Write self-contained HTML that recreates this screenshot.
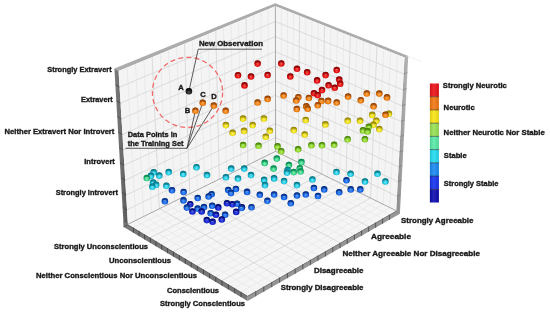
<!DOCTYPE html>
<html><head><meta charset="utf-8"><title>Personality 3D scatter</title><style>
html,body{margin:0;padding:0;background:#fff;width:550px;height:313px;overflow:hidden}
svg{display:block}
text{font-family:"Liberation Sans",Arial,sans-serif;font-weight:bold;font-size:7.6px;fill:#1a1a1a;stroke:#1a1a1a;stroke-width:0.36px}
</style></head><body>
<svg width="550" height="313" viewBox="0 0 550 313">
<defs>
<radialGradient id="gR" cx="50%" cy="60%" r="58%" fx="50%" fy="68%"><stop offset="0" stop-color="#ff4a4a"/><stop offset="0.55" stop-color="#e40a0a"/><stop offset="1" stop-color="#800000"/></radialGradient>
<radialGradient id="gO" cx="50%" cy="60%" r="58%" fx="50%" fy="68%"><stop offset="0" stop-color="#ffa845"/><stop offset="0.55" stop-color="#ee7a08"/><stop offset="1" stop-color="#8a3a00"/></radialGradient>
<radialGradient id="gO2" cx="50%" cy="60%" r="58%" fx="50%" fy="68%"><stop offset="0" stop-color="#ffa845"/><stop offset="0.55" stop-color="#ee7a08"/><stop offset="1" stop-color="#8a3a00"/></radialGradient>
<radialGradient id="gY" cx="50%" cy="60%" r="58%" fx="50%" fy="68%"><stop offset="0" stop-color="#fff45a"/><stop offset="0.55" stop-color="#eedd10"/><stop offset="1" stop-color="#8a7a00"/></radialGradient>
<radialGradient id="gG" cx="50%" cy="60%" r="58%" fx="50%" fy="68%"><stop offset="0" stop-color="#b8f060"/><stop offset="0.55" stop-color="#8cd428"/><stop offset="1" stop-color="#3e7a00"/></radialGradient>
<radialGradient id="gT" cx="50%" cy="60%" r="58%" fx="50%" fy="68%"><stop offset="0" stop-color="#80f8b8"/><stop offset="0.55" stop-color="#32d084"/><stop offset="1" stop-color="#008048"/></radialGradient>
<radialGradient id="gC" cx="50%" cy="60%" r="58%" fx="50%" fy="68%"><stop offset="0" stop-color="#6aeeff"/><stop offset="0.55" stop-color="#18c4e0"/><stop offset="1" stop-color="#00707e"/></radialGradient>
<radialGradient id="gB" cx="50%" cy="60%" r="58%" fx="50%" fy="68%"><stop offset="0" stop-color="#4a94ff"/><stop offset="0.55" stop-color="#1464e6"/><stop offset="1" stop-color="#00287a"/></radialGradient>
<radialGradient id="gD" cx="50%" cy="60%" r="58%" fx="50%" fy="68%"><stop offset="0" stop-color="#3c4cf4"/><stop offset="0.55" stop-color="#1422cc"/><stop offset="1" stop-color="#000868"/></radialGradient>
<radialGradient id="gA" cx="50%" cy="60%" r="58%" fx="50%" fy="68%"><stop offset="0" stop-color="#555555"/><stop offset="0.55" stop-color="#222222"/><stop offset="1" stop-color="#0a0a0a"/></radialGradient>
<linearGradient id="rband" x1="0" x2="1" y1="0" y2="0"><stop offset="0" stop-color="#8a8a8a"/><stop offset="1" stop-color="#b8b8b8"/></linearGradient>
<linearGradient id="lband" x1="0" x2="1" y1="0" y2="0"><stop offset="0" stop-color="#7a7a7a"/><stop offset="0.6" stop-color="#6a6a6a"/><stop offset="1" stop-color="#555"/></linearGradient>
<linearGradient id="cbshade" x1="0" x2="1" y1="0" y2="0"><stop offset="0" stop-color="#000" stop-opacity="0.12"/><stop offset="0.45" stop-color="#fff" stop-opacity="0.1"/><stop offset="1" stop-color="#000" stop-opacity="0.1"/></linearGradient>
</defs>
<rect width="550" height="313" fill="#fff"/>
<polygon points="114.4,68.4 275.4,3.2 408.3,56 404.5,57.6 275.4,6.2 118.6,71" fill="#acacac" />
<polygon points="114.4,68.4 118.6,71 127.9,224.3 123.7,227" fill="url(#lband)" />
<polygon points="123.7,221.8 247.6,295.8 247.6,301 123.7,227" fill="#777777" />
<polygon points="247.6,295.8 399.9,208.6 399.9,213.8 247.6,301" fill="#959595" />
<polygon points="404.5,57.6 408.3,56 399.9,213.2 396.2,210.7" fill="url(#rband)" />
<line x1="408.6" y1="56.4" x2="422" y2="61.6" stroke="#ececec" stroke-width="0.8"/>
<polyline points="123.7,226.9 127.9,224.5 247.6,296 396.2,210.9" fill="none" stroke="#4a4a4a" stroke-width="0.8"/>
<polygon points="118.6,71 275.4,6.2 275.6,151.3 127.9,224.3" fill="#f4f4f4" />
<polygon points="275.4,6.2 404.5,57.6 396.2,210.7 275.6,151.3" fill="#f4f4f4" />
<polygon points="275.6,151.3 396.2,210.7 247.6,295.8 127.9,224.3" fill="#f5f5f5" />
<line x1="127.09" y1="67.49" x2="135.86" y2="220.37" stroke="#e2e2e2" stroke-width="0.6"/>
<line x1="135.5" y1="64.01" x2="143.76" y2="216.46" stroke="#e2e2e2" stroke-width="0.6"/>
<line x1="143.85" y1="60.57" x2="151.59" y2="212.59" stroke="#e2e2e2" stroke-width="0.6"/>
<line x1="152.12" y1="57.15" x2="159.36" y2="208.75" stroke="#cacaca" stroke-width="0.6"/>
<line x1="160.32" y1="53.76" x2="167.06" y2="204.95" stroke="#e2e2e2" stroke-width="0.6"/>
<line x1="168.45" y1="50.4" x2="174.7" y2="201.17" stroke="#e2e2e2" stroke-width="0.6"/>
<line x1="176.51" y1="47.07" x2="182.29" y2="197.42" stroke="#e2e2e2" stroke-width="0.6"/>
<line x1="184.5" y1="43.77" x2="189.81" y2="193.7" stroke="#cacaca" stroke-width="0.6"/>
<line x1="192.43" y1="40.49" x2="197.27" y2="190.01" stroke="#e2e2e2" stroke-width="0.6"/>
<line x1="200.28" y1="37.24" x2="204.67" y2="186.36" stroke="#e2e2e2" stroke-width="0.6"/>
<line x1="208.08" y1="34.02" x2="212.02" y2="182.73" stroke="#e2e2e2" stroke-width="0.6"/>
<line x1="215.81" y1="30.83" x2="219.3" y2="179.12" stroke="#cacaca" stroke-width="0.6"/>
<line x1="223.47" y1="27.66" x2="226.53" y2="175.55" stroke="#e2e2e2" stroke-width="0.6"/>
<line x1="231.07" y1="24.52" x2="233.71" y2="172.01" stroke="#e2e2e2" stroke-width="0.6"/>
<line x1="238.61" y1="21.4" x2="240.82" y2="168.49" stroke="#e2e2e2" stroke-width="0.6"/>
<line x1="246.09" y1="18.31" x2="247.89" y2="165" stroke="#cacaca" stroke-width="0.6"/>
<line x1="253.51" y1="15.25" x2="254.89" y2="161.53" stroke="#e2e2e2" stroke-width="0.6"/>
<line x1="260.86" y1="12.21" x2="261.85" y2="158.1" stroke="#e2e2e2" stroke-width="0.6"/>
<line x1="268.16" y1="9.19" x2="268.75" y2="154.69" stroke="#e2e2e2" stroke-width="0.6"/>
<line x1="119.58" y1="87.17" x2="275.42" y2="21.44" stroke="#d4d4d4" stroke-width="0.8"/>
<line x1="120.55" y1="103.15" x2="275.44" y2="36.52" stroke="#d4d4d4" stroke-width="0.8"/>
<line x1="121.51" y1="118.93" x2="275.46" y2="51.42" stroke="#d4d4d4" stroke-width="0.8"/>
<line x1="122.45" y1="134.53" x2="275.48" y2="66.17" stroke="#d4d4d4" stroke-width="0.8"/>
<line x1="123.39" y1="149.94" x2="275.5" y2="80.74" stroke="#d4d4d4" stroke-width="0.8"/>
<line x1="124.31" y1="165.16" x2="275.52" y2="95.16" stroke="#d4d4d4" stroke-width="0.8"/>
<line x1="125.23" y1="180.21" x2="275.54" y2="109.43" stroke="#d4d4d4" stroke-width="0.8"/>
<line x1="126.13" y1="195.08" x2="275.56" y2="123.54" stroke="#d4d4d4" stroke-width="0.8"/>
<line x1="127.02" y1="209.77" x2="275.58" y2="137.49" stroke="#d4d4d4" stroke-width="0.8"/>
<line x1="281.38" y1="8.58" x2="281.21" y2="154.06" stroke="#e2e2e2" stroke-width="0.6"/>
<line x1="287.4" y1="10.98" x2="286.86" y2="156.85" stroke="#e2e2e2" stroke-width="0.6"/>
<line x1="293.47" y1="13.4" x2="292.56" y2="159.65" stroke="#e2e2e2" stroke-width="0.6"/>
<line x1="299.59" y1="15.83" x2="298.29" y2="162.48" stroke="#cacaca" stroke-width="0.6"/>
<line x1="305.76" y1="18.29" x2="304.07" y2="165.32" stroke="#e2e2e2" stroke-width="0.6"/>
<line x1="311.98" y1="20.76" x2="309.9" y2="168.19" stroke="#e2e2e2" stroke-width="0.6"/>
<line x1="318.24" y1="23.26" x2="315.76" y2="171.08" stroke="#e2e2e2" stroke-width="0.6"/>
<line x1="324.56" y1="25.77" x2="321.67" y2="173.99" stroke="#cacaca" stroke-width="0.6"/>
<line x1="330.93" y1="28.31" x2="327.62" y2="176.92" stroke="#e2e2e2" stroke-width="0.6"/>
<line x1="337.35" y1="30.86" x2="333.62" y2="179.88" stroke="#e2e2e2" stroke-width="0.6"/>
<line x1="343.82" y1="33.44" x2="339.67" y2="182.86" stroke="#e2e2e2" stroke-width="0.6"/>
<line x1="350.34" y1="36.04" x2="345.76" y2="185.85" stroke="#cacaca" stroke-width="0.6"/>
<line x1="356.92" y1="38.66" x2="351.89" y2="188.88" stroke="#e2e2e2" stroke-width="0.6"/>
<line x1="363.55" y1="41.3" x2="358.08" y2="191.92" stroke="#e2e2e2" stroke-width="0.6"/>
<line x1="370.23" y1="43.96" x2="364.31" y2="194.99" stroke="#e2e2e2" stroke-width="0.6"/>
<line x1="376.97" y1="46.64" x2="370.59" y2="198.09" stroke="#cacaca" stroke-width="0.6"/>
<line x1="383.77" y1="49.35" x2="376.92" y2="201.2" stroke="#e2e2e2" stroke-width="0.6"/>
<line x1="390.62" y1="52.07" x2="383.29" y2="204.34" stroke="#e2e2e2" stroke-width="0.6"/>
<line x1="397.53" y1="54.83" x2="389.72" y2="207.51" stroke="#e2e2e2" stroke-width="0.6"/>
<line x1="275.42" y1="21.56" x2="403.62" y2="73.88" stroke="#d4d4d4" stroke-width="0.8"/>
<line x1="275.44" y1="36.71" x2="402.75" y2="89.93" stroke="#d4d4d4" stroke-width="0.8"/>
<line x1="275.46" y1="51.68" x2="401.89" y2="105.75" stroke="#d4d4d4" stroke-width="0.8"/>
<line x1="275.48" y1="66.45" x2="401.04" y2="121.36" stroke="#d4d4d4" stroke-width="0.8"/>
<line x1="275.5" y1="81.04" x2="400.21" y2="136.76" stroke="#d4d4d4" stroke-width="0.8"/>
<line x1="275.52" y1="95.44" x2="399.39" y2="151.95" stroke="#d4d4d4" stroke-width="0.8"/>
<line x1="275.54" y1="109.67" x2="398.57" y2="166.93" stroke="#d4d4d4" stroke-width="0.8"/>
<line x1="275.56" y1="123.72" x2="397.77" y2="181.72" stroke="#d4d4d4" stroke-width="0.8"/>
<line x1="275.58" y1="137.59" x2="396.98" y2="196.3" stroke="#d4d4d4" stroke-width="0.8"/>
<line x1="281.21" y1="154.06" x2="133.43" y2="227.6" stroke="#e6e6e6" stroke-width="0.6"/>
<line x1="286.87" y1="156.85" x2="139.01" y2="230.94" stroke="#e6e6e6" stroke-width="0.6"/>
<line x1="292.56" y1="159.65" x2="144.63" y2="234.29" stroke="#e6e6e6" stroke-width="0.6"/>
<line x1="298.3" y1="162.48" x2="150.3" y2="237.68" stroke="#cacaca" stroke-width="0.6"/>
<line x1="304.08" y1="165.33" x2="156.01" y2="241.09" stroke="#e6e6e6" stroke-width="0.6"/>
<line x1="309.9" y1="168.19" x2="161.77" y2="244.53" stroke="#e6e6e6" stroke-width="0.6"/>
<line x1="315.76" y1="171.08" x2="167.58" y2="248" stroke="#e6e6e6" stroke-width="0.6"/>
<line x1="321.67" y1="173.99" x2="173.43" y2="251.5" stroke="#cacaca" stroke-width="0.6"/>
<line x1="327.63" y1="176.93" x2="179.33" y2="255.02" stroke="#e6e6e6" stroke-width="0.6"/>
<line x1="333.63" y1="179.88" x2="185.28" y2="258.58" stroke="#e6e6e6" stroke-width="0.6"/>
<line x1="339.67" y1="182.86" x2="191.28" y2="262.16" stroke="#e6e6e6" stroke-width="0.6"/>
<line x1="345.76" y1="185.86" x2="197.33" y2="265.77" stroke="#cacaca" stroke-width="0.6"/>
<line x1="351.9" y1="188.88" x2="203.43" y2="269.42" stroke="#e6e6e6" stroke-width="0.6"/>
<line x1="358.08" y1="191.92" x2="209.58" y2="273.09" stroke="#e6e6e6" stroke-width="0.6"/>
<line x1="364.31" y1="194.99" x2="215.78" y2="276.8" stroke="#e6e6e6" stroke-width="0.6"/>
<line x1="370.59" y1="198.09" x2="222.04" y2="280.53" stroke="#cacaca" stroke-width="0.6"/>
<line x1="376.92" y1="201.2" x2="228.35" y2="284.3" stroke="#e6e6e6" stroke-width="0.6"/>
<line x1="383.3" y1="204.34" x2="234.71" y2="288.1" stroke="#e6e6e6" stroke-width="0.6"/>
<line x1="389.72" y1="207.51" x2="241.13" y2="291.93" stroke="#e6e6e6" stroke-width="0.6"/>
<line x1="268.8" y1="154.66" x2="389.4" y2="214.59" stroke="#e6e6e6" stroke-width="0.6"/>
<line x1="261.94" y1="158.05" x2="382.54" y2="218.52" stroke="#e6e6e6" stroke-width="0.6"/>
<line x1="255.02" y1="161.47" x2="375.62" y2="222.48" stroke="#e6e6e6" stroke-width="0.6"/>
<line x1="248.05" y1="164.92" x2="368.64" y2="226.48" stroke="#cacaca" stroke-width="0.6"/>
<line x1="241.01" y1="168.39" x2="361.59" y2="230.52" stroke="#e6e6e6" stroke-width="0.6"/>
<line x1="233.92" y1="171.9" x2="354.48" y2="234.59" stroke="#e6e6e6" stroke-width="0.6"/>
<line x1="226.77" y1="175.44" x2="347.3" y2="238.7" stroke="#e6e6e6" stroke-width="0.6"/>
<line x1="219.55" y1="179" x2="340.06" y2="242.85" stroke="#cacaca" stroke-width="0.6"/>
<line x1="212.28" y1="182.6" x2="332.75" y2="247.04" stroke="#e6e6e6" stroke-width="0.6"/>
<line x1="204.94" y1="186.23" x2="325.37" y2="251.26" stroke="#e6e6e6" stroke-width="0.6"/>
<line x1="197.53" y1="189.88" x2="317.92" y2="255.53" stroke="#e6e6e6" stroke-width="0.6"/>
<line x1="190.07" y1="193.58" x2="310.4" y2="259.84" stroke="#cacaca" stroke-width="0.6"/>
<line x1="182.53" y1="197.3" x2="302.81" y2="264.18" stroke="#e6e6e6" stroke-width="0.6"/>
<line x1="174.93" y1="201.05" x2="295.15" y2="268.57" stroke="#e6e6e6" stroke-width="0.6"/>
<line x1="167.27" y1="204.84" x2="287.41" y2="273" stroke="#e6e6e6" stroke-width="0.6"/>
<line x1="159.53" y1="208.67" x2="279.6" y2="277.47" stroke="#cacaca" stroke-width="0.6"/>
<line x1="151.73" y1="212.52" x2="271.72" y2="281.99" stroke="#e6e6e6" stroke-width="0.6"/>
<line x1="143.86" y1="216.41" x2="263.76" y2="286.55" stroke="#e6e6e6" stroke-width="0.6"/>
<line x1="135.91" y1="220.34" x2="255.72" y2="291.15" stroke="#e6e6e6" stroke-width="0.6"/>
<line x1="275.4" y1="6.2" x2="275.6" y2="151.3" stroke="#a0a0a0" stroke-width="0.9"/>
<line x1="275.6" y1="151.3" x2="127.9" y2="224.3" stroke="#a0a0a0" stroke-width="0.9"/>
<line x1="275.6" y1="151.3" x2="396.2" y2="210.7" stroke="#a0a0a0" stroke-width="0.9"/>
<line x1="133.43" y1="227.6" x2="133.43" y2="232.8" stroke="#3e3e3e" stroke-width="0.8"/>
<line x1="389.4" y1="214.59" x2="389.4" y2="219.79" stroke="#505050" stroke-width="0.9"/>
<line x1="139.01" y1="230.94" x2="139.01" y2="236.14" stroke="#3e3e3e" stroke-width="0.8"/>
<line x1="382.54" y1="218.52" x2="382.54" y2="223.72" stroke="#505050" stroke-width="0.9"/>
<line x1="144.63" y1="234.29" x2="144.63" y2="239.49" stroke="#3e3e3e" stroke-width="0.8"/>
<line x1="375.62" y1="222.48" x2="375.62" y2="227.68" stroke="#505050" stroke-width="0.9"/>
<line x1="150.3" y1="237.68" x2="150.3" y2="242.88" stroke="#3e3e3e" stroke-width="0.8"/>
<line x1="368.64" y1="226.48" x2="368.64" y2="231.68" stroke="#505050" stroke-width="0.9"/>
<line x1="156.01" y1="241.09" x2="156.01" y2="246.29" stroke="#3e3e3e" stroke-width="0.8"/>
<line x1="361.59" y1="230.52" x2="361.59" y2="235.72" stroke="#505050" stroke-width="0.9"/>
<line x1="161.77" y1="244.53" x2="161.77" y2="249.73" stroke="#3e3e3e" stroke-width="0.8"/>
<line x1="354.48" y1="234.59" x2="354.48" y2="239.79" stroke="#505050" stroke-width="0.9"/>
<line x1="167.58" y1="248" x2="167.58" y2="253.2" stroke="#3e3e3e" stroke-width="0.8"/>
<line x1="347.3" y1="238.7" x2="347.3" y2="243.9" stroke="#505050" stroke-width="0.9"/>
<line x1="173.43" y1="251.5" x2="173.43" y2="256.7" stroke="#3e3e3e" stroke-width="0.8"/>
<line x1="340.06" y1="242.85" x2="340.06" y2="248.05" stroke="#505050" stroke-width="0.9"/>
<line x1="179.33" y1="255.02" x2="179.33" y2="260.22" stroke="#3e3e3e" stroke-width="0.8"/>
<line x1="332.75" y1="247.04" x2="332.75" y2="252.24" stroke="#505050" stroke-width="0.9"/>
<line x1="185.28" y1="258.58" x2="185.28" y2="263.78" stroke="#3e3e3e" stroke-width="0.8"/>
<line x1="325.37" y1="251.26" x2="325.37" y2="256.46" stroke="#505050" stroke-width="0.9"/>
<line x1="191.28" y1="262.16" x2="191.28" y2="267.36" stroke="#3e3e3e" stroke-width="0.8"/>
<line x1="317.92" y1="255.53" x2="317.92" y2="260.73" stroke="#505050" stroke-width="0.9"/>
<line x1="197.33" y1="265.77" x2="197.33" y2="270.97" stroke="#3e3e3e" stroke-width="0.8"/>
<line x1="310.4" y1="259.84" x2="310.4" y2="265.04" stroke="#505050" stroke-width="0.9"/>
<line x1="203.43" y1="269.42" x2="203.43" y2="274.62" stroke="#3e3e3e" stroke-width="0.8"/>
<line x1="302.81" y1="264.18" x2="302.81" y2="269.38" stroke="#505050" stroke-width="0.9"/>
<line x1="209.58" y1="273.09" x2="209.58" y2="278.29" stroke="#3e3e3e" stroke-width="0.8"/>
<line x1="295.15" y1="268.57" x2="295.15" y2="273.77" stroke="#505050" stroke-width="0.9"/>
<line x1="215.78" y1="276.8" x2="215.78" y2="282" stroke="#3e3e3e" stroke-width="0.8"/>
<line x1="287.41" y1="273" x2="287.41" y2="278.2" stroke="#505050" stroke-width="0.9"/>
<line x1="222.04" y1="280.53" x2="222.04" y2="285.73" stroke="#3e3e3e" stroke-width="0.8"/>
<line x1="279.6" y1="277.47" x2="279.6" y2="282.67" stroke="#505050" stroke-width="0.9"/>
<line x1="228.35" y1="284.3" x2="228.35" y2="289.5" stroke="#3e3e3e" stroke-width="0.8"/>
<line x1="271.72" y1="281.99" x2="271.72" y2="287.19" stroke="#505050" stroke-width="0.9"/>
<line x1="234.71" y1="288.1" x2="234.71" y2="293.3" stroke="#3e3e3e" stroke-width="0.8"/>
<line x1="263.76" y1="286.55" x2="263.76" y2="291.75" stroke="#505050" stroke-width="0.9"/>
<line x1="241.13" y1="291.93" x2="241.13" y2="297.13" stroke="#3e3e3e" stroke-width="0.8"/>
<line x1="255.72" y1="291.15" x2="255.72" y2="296.35" stroke="#505050" stroke-width="0.9"/>
<line x1="119.58" y1="87.17" x2="115.38" y2="84.67" stroke="#444" stroke-width="0.7"/>
<line x1="403.62" y1="73.88" x2="407.42" y2="72.38" stroke="#777" stroke-width="0.6"/>
<line x1="120.55" y1="103.15" x2="116.35" y2="100.65" stroke="#444" stroke-width="0.7"/>
<line x1="402.75" y1="89.93" x2="406.55" y2="88.43" stroke="#777" stroke-width="0.6"/>
<line x1="121.51" y1="118.93" x2="117.31" y2="116.43" stroke="#444" stroke-width="0.7"/>
<line x1="401.89" y1="105.75" x2="405.69" y2="104.25" stroke="#777" stroke-width="0.6"/>
<line x1="122.45" y1="134.53" x2="118.25" y2="132.03" stroke="#444" stroke-width="0.7"/>
<line x1="401.04" y1="121.36" x2="404.84" y2="119.86" stroke="#777" stroke-width="0.6"/>
<line x1="123.39" y1="149.94" x2="119.19" y2="147.44" stroke="#444" stroke-width="0.7"/>
<line x1="400.21" y1="136.76" x2="404.01" y2="135.26" stroke="#777" stroke-width="0.6"/>
<line x1="124.31" y1="165.16" x2="120.11" y2="162.66" stroke="#444" stroke-width="0.7"/>
<line x1="399.39" y1="151.95" x2="403.19" y2="150.45" stroke="#777" stroke-width="0.6"/>
<line x1="125.23" y1="180.21" x2="121.03" y2="177.71" stroke="#444" stroke-width="0.7"/>
<line x1="398.57" y1="166.93" x2="402.37" y2="165.43" stroke="#777" stroke-width="0.6"/>
<line x1="126.13" y1="195.08" x2="121.93" y2="192.58" stroke="#444" stroke-width="0.7"/>
<line x1="397.77" y1="181.72" x2="401.57" y2="180.22" stroke="#777" stroke-width="0.6"/>
<line x1="127.02" y1="209.77" x2="122.82" y2="207.27" stroke="#444" stroke-width="0.7"/>
<line x1="396.98" y1="196.3" x2="400.78" y2="194.8" stroke="#777" stroke-width="0.6"/>
<circle cx="187.5" cy="92.4" r="35.1" fill="none" stroke="#f06a6a" stroke-width="1.3" stroke-dasharray="5 3.2"/>
<polyline points="262,49.2 198.2,49.2 188.9,91.3" fill="none" stroke="#333" stroke-width="0.8"/>
<polyline points="125.4,148.3 187,148.3" fill="none" stroke="#333" stroke-width="0.8"/>
<line x1="187" y1="148.3" x2="195.4" y2="110.7" stroke="#333" stroke-width="0.8"/>
<line x1="187" y1="148.3" x2="202.7" y2="102.7" stroke="#333" stroke-width="0.8"/>
<line x1="187" y1="148.3" x2="213.8" y2="105.6" stroke="#333" stroke-width="0.8"/>
<circle cx="281.3" cy="63.5" r="3.3" fill="url(#gR)"/>
<ellipse cx="281.3" cy="61.8" rx="2.5" ry="1.5" fill="#800000" fill-opacity="0.45"/>
<ellipse cx="281.3" cy="63" rx="1.7" ry="0.4" fill="#fff" fill-opacity="0.5"/>
<circle cx="257.6" cy="63.6" r="3.3" fill="url(#gR)"/>
<ellipse cx="257.6" cy="61.9" rx="2.5" ry="1.5" fill="#800000" fill-opacity="0.45"/>
<ellipse cx="257.6" cy="63.1" rx="1.7" ry="0.4" fill="#fff" fill-opacity="0.5"/>
<circle cx="297" cy="68.8" r="3.3" fill="url(#gR)"/>
<ellipse cx="297" cy="67.1" rx="2.5" ry="1.5" fill="#800000" fill-opacity="0.45"/>
<ellipse cx="297" cy="68.3" rx="1.7" ry="0.4" fill="#fff" fill-opacity="0.5"/>
<circle cx="336.7" cy="70" r="3.3" fill="url(#gR)"/>
<ellipse cx="336.7" cy="68.3" rx="2.5" ry="1.5" fill="#800000" fill-opacity="0.45"/>
<ellipse cx="336.7" cy="69.5" rx="1.7" ry="0.4" fill="#fff" fill-opacity="0.5"/>
<circle cx="307.2" cy="72.3" r="3.3" fill="url(#gR)"/>
<ellipse cx="307.2" cy="70.6" rx="2.5" ry="1.5" fill="#800000" fill-opacity="0.45"/>
<ellipse cx="307.2" cy="71.8" rx="1.7" ry="0.4" fill="#fff" fill-opacity="0.5"/>
<circle cx="267.6" cy="75" r="3.3" fill="url(#gR)"/>
<ellipse cx="267.6" cy="73.3" rx="2.5" ry="1.5" fill="#800000" fill-opacity="0.45"/>
<ellipse cx="267.6" cy="74.5" rx="1.7" ry="0.4" fill="#fff" fill-opacity="0.5"/>
<circle cx="325.6" cy="75.1" r="3.3" fill="url(#gR)"/>
<ellipse cx="325.6" cy="73.4" rx="2.5" ry="1.5" fill="#800000" fill-opacity="0.45"/>
<ellipse cx="325.6" cy="74.6" rx="1.7" ry="0.4" fill="#fff" fill-opacity="0.5"/>
<circle cx="238" cy="75.2" r="3.3" fill="url(#gR)"/>
<ellipse cx="238" cy="73.5" rx="2.5" ry="1.5" fill="#800000" fill-opacity="0.45"/>
<ellipse cx="238" cy="74.7" rx="1.7" ry="0.4" fill="#fff" fill-opacity="0.5"/>
<circle cx="251" cy="76.5" r="3.3" fill="url(#gR)"/>
<ellipse cx="251" cy="74.8" rx="2.5" ry="1.5" fill="#800000" fill-opacity="0.45"/>
<ellipse cx="251" cy="76" rx="1.7" ry="0.4" fill="#fff" fill-opacity="0.5"/>
<circle cx="290.3" cy="76.5" r="3.3" fill="url(#gR)"/>
<ellipse cx="290.3" cy="74.8" rx="2.5" ry="1.5" fill="#800000" fill-opacity="0.45"/>
<ellipse cx="290.3" cy="76" rx="1.7" ry="0.4" fill="#fff" fill-opacity="0.5"/>
<circle cx="339.2" cy="79.6" r="3.3" fill="url(#gR)"/>
<ellipse cx="339.2" cy="77.9" rx="2.5" ry="1.5" fill="#800000" fill-opacity="0.45"/>
<ellipse cx="339.2" cy="79.1" rx="1.7" ry="0.4" fill="#fff" fill-opacity="0.5"/>
<circle cx="317.1" cy="80.4" r="3.3" fill="url(#gR)"/>
<ellipse cx="317.1" cy="78.7" rx="2.5" ry="1.5" fill="#800000" fill-opacity="0.45"/>
<ellipse cx="317.1" cy="79.9" rx="1.7" ry="0.4" fill="#fff" fill-opacity="0.5"/>
<circle cx="340.2" cy="83.7" r="3.3" fill="url(#gR)"/>
<ellipse cx="340.2" cy="82" rx="2.5" ry="1.5" fill="#800000" fill-opacity="0.45"/>
<ellipse cx="340.2" cy="83.2" rx="1.7" ry="0.4" fill="#fff" fill-opacity="0.5"/>
<circle cx="328.6" cy="85.3" r="3.3" fill="url(#gR)"/>
<ellipse cx="328.6" cy="83.6" rx="2.5" ry="1.5" fill="#800000" fill-opacity="0.45"/>
<ellipse cx="328.6" cy="84.8" rx="1.7" ry="0.4" fill="#fff" fill-opacity="0.5"/>
<circle cx="244.5" cy="85.4" r="3.3" fill="url(#gR)"/>
<ellipse cx="244.5" cy="83.7" rx="2.5" ry="1.5" fill="#800000" fill-opacity="0.45"/>
<ellipse cx="244.5" cy="84.9" rx="1.7" ry="0.4" fill="#fff" fill-opacity="0.5"/>
<circle cx="334.7" cy="87.8" r="3.3" fill="url(#gR)"/>
<ellipse cx="334.7" cy="86.1" rx="2.5" ry="1.5" fill="#800000" fill-opacity="0.45"/>
<ellipse cx="334.7" cy="87.3" rx="1.7" ry="0.4" fill="#fff" fill-opacity="0.5"/>
<circle cx="322" cy="90.1" r="3.3" fill="url(#gR)"/>
<ellipse cx="322" cy="88.4" rx="2.5" ry="1.5" fill="#800000" fill-opacity="0.45"/>
<ellipse cx="322" cy="89.6" rx="1.7" ry="0.4" fill="#fff" fill-opacity="0.5"/>
<circle cx="188.9" cy="91.3" r="3.3" fill="url(#gA)"/>
<ellipse cx="188.9" cy="89.6" rx="2.5" ry="1.5" fill="#0a0a0a" fill-opacity="0.45"/>
<circle cx="314" cy="93.3" r="3.3" fill="url(#gR)"/>
<ellipse cx="314" cy="91.6" rx="2.5" ry="1.5" fill="#800000" fill-opacity="0.45"/>
<ellipse cx="314" cy="92.8" rx="1.7" ry="0.4" fill="#fff" fill-opacity="0.5"/>
<circle cx="366.8" cy="93.5" r="3.3" fill="url(#gO)"/>
<ellipse cx="366.8" cy="91.8" rx="2.5" ry="1.5" fill="#8a3a00" fill-opacity="0.45"/>
<ellipse cx="366.8" cy="93" rx="1.7" ry="0.4" fill="#fff" fill-opacity="0.5"/>
<circle cx="379.3" cy="93.6" r="3.3" fill="url(#gO)"/>
<ellipse cx="379.3" cy="91.9" rx="2.5" ry="1.5" fill="#8a3a00" fill-opacity="0.45"/>
<ellipse cx="379.3" cy="93.1" rx="1.7" ry="0.4" fill="#fff" fill-opacity="0.5"/>
<circle cx="317.7" cy="95.1" r="3.3" fill="url(#gR)"/>
<ellipse cx="317.7" cy="93.4" rx="2.5" ry="1.5" fill="#800000" fill-opacity="0.45"/>
<ellipse cx="317.7" cy="94.6" rx="1.7" ry="0.4" fill="#fff" fill-opacity="0.5"/>
<circle cx="283.6" cy="95.5" r="3.3" fill="url(#gO)"/>
<ellipse cx="283.6" cy="93.8" rx="2.5" ry="1.5" fill="#8a3a00" fill-opacity="0.45"/>
<ellipse cx="283.6" cy="95" rx="1.7" ry="0.4" fill="#fff" fill-opacity="0.5"/>
<circle cx="348.1" cy="96.6" r="3.3" fill="url(#gO)"/>
<ellipse cx="348.1" cy="94.9" rx="2.5" ry="1.5" fill="#8a3a00" fill-opacity="0.45"/>
<ellipse cx="348.1" cy="96.1" rx="1.7" ry="0.4" fill="#fff" fill-opacity="0.5"/>
<circle cx="298.3" cy="97.2" r="3.3" fill="url(#gO)"/>
<ellipse cx="298.3" cy="95.5" rx="2.5" ry="1.5" fill="#8a3a00" fill-opacity="0.45"/>
<ellipse cx="298.3" cy="96.7" rx="1.7" ry="0.4" fill="#fff" fill-opacity="0.5"/>
<circle cx="387" cy="97.4" r="3.3" fill="url(#gO)"/>
<ellipse cx="387" cy="95.7" rx="2.5" ry="1.5" fill="#8a3a00" fill-opacity="0.45"/>
<ellipse cx="387" cy="96.9" rx="1.7" ry="0.4" fill="#fff" fill-opacity="0.5"/>
<circle cx="308.9" cy="98" r="3.3" fill="url(#gO)"/>
<ellipse cx="308.9" cy="96.3" rx="2.5" ry="1.5" fill="#8a3a00" fill-opacity="0.45"/>
<ellipse cx="308.9" cy="97.5" rx="1.7" ry="0.4" fill="#fff" fill-opacity="0.5"/>
<circle cx="267.6" cy="98.9" r="3.3" fill="url(#gO)"/>
<ellipse cx="267.6" cy="97.2" rx="2.5" ry="1.5" fill="#8a3a00" fill-opacity="0.45"/>
<ellipse cx="267.6" cy="98.4" rx="1.7" ry="0.4" fill="#fff" fill-opacity="0.5"/>
<circle cx="360.8" cy="100.2" r="3.3" fill="url(#gO)"/>
<ellipse cx="360.8" cy="98.5" rx="2.5" ry="1.5" fill="#8a3a00" fill-opacity="0.45"/>
<ellipse cx="360.8" cy="99.7" rx="1.7" ry="0.4" fill="#fff" fill-opacity="0.5"/>
<circle cx="296.2" cy="100.5" r="3.3" fill="url(#gO)"/>
<ellipse cx="296.2" cy="98.8" rx="2.5" ry="1.5" fill="#8a3a00" fill-opacity="0.45"/>
<ellipse cx="296.2" cy="100" rx="1.7" ry="0.4" fill="#fff" fill-opacity="0.5"/>
<circle cx="328.1" cy="100.9" r="3.3" fill="url(#gO)"/>
<ellipse cx="328.1" cy="99.2" rx="2.5" ry="1.5" fill="#8a3a00" fill-opacity="0.45"/>
<ellipse cx="328.1" cy="100.4" rx="1.7" ry="0.4" fill="#fff" fill-opacity="0.5"/>
<circle cx="321.4" cy="101" r="3.3" fill="url(#gO)"/>
<ellipse cx="321.4" cy="99.3" rx="2.5" ry="1.5" fill="#8a3a00" fill-opacity="0.45"/>
<ellipse cx="321.4" cy="100.5" rx="1.7" ry="0.4" fill="#fff" fill-opacity="0.5"/>
<circle cx="257.6" cy="102.5" r="3.3" fill="url(#gO)"/>
<ellipse cx="257.6" cy="100.8" rx="2.5" ry="1.5" fill="#8a3a00" fill-opacity="0.45"/>
<ellipse cx="257.6" cy="102" rx="1.7" ry="0.4" fill="#fff" fill-opacity="0.5"/>
<circle cx="336.7" cy="102.5" r="3.3" fill="url(#gO)"/>
<ellipse cx="336.7" cy="100.8" rx="2.5" ry="1.5" fill="#8a3a00" fill-opacity="0.45"/>
<ellipse cx="336.7" cy="102" rx="1.7" ry="0.4" fill="#fff" fill-opacity="0.5"/>
<circle cx="202.7" cy="102.7" r="3.3" fill="url(#gO)"/>
<ellipse cx="202.7" cy="101" rx="2.5" ry="1.5" fill="#8a3a00" fill-opacity="0.45"/>
<ellipse cx="202.7" cy="102.2" rx="1.7" ry="0.4" fill="#fff" fill-opacity="0.5"/>
<circle cx="317.8" cy="105.2" r="3.3" fill="url(#gO)"/>
<ellipse cx="317.8" cy="103.5" rx="2.5" ry="1.5" fill="#8a3a00" fill-opacity="0.45"/>
<ellipse cx="317.8" cy="104.7" rx="1.7" ry="0.4" fill="#fff" fill-opacity="0.5"/>
<circle cx="213.8" cy="105.6" r="3.3" fill="url(#gO)"/>
<ellipse cx="213.8" cy="103.9" rx="2.5" ry="1.5" fill="#8a3a00" fill-opacity="0.45"/>
<ellipse cx="213.8" cy="105.1" rx="1.7" ry="0.4" fill="#fff" fill-opacity="0.5"/>
<circle cx="373.6" cy="106.3" r="3.3" fill="url(#gO)"/>
<ellipse cx="373.6" cy="104.6" rx="2.5" ry="1.5" fill="#8a3a00" fill-opacity="0.45"/>
<ellipse cx="373.6" cy="105.8" rx="1.7" ry="0.4" fill="#fff" fill-opacity="0.5"/>
<circle cx="306.3" cy="106.4" r="3.3" fill="url(#gO)"/>
<ellipse cx="306.3" cy="104.7" rx="2.5" ry="1.5" fill="#8a3a00" fill-opacity="0.45"/>
<ellipse cx="306.3" cy="105.9" rx="1.7" ry="0.4" fill="#fff" fill-opacity="0.5"/>
<circle cx="307.7" cy="108.7" r="3.3" fill="url(#gO)"/>
<ellipse cx="307.7" cy="107" rx="2.5" ry="1.5" fill="#8a3a00" fill-opacity="0.45"/>
<ellipse cx="307.7" cy="108.2" rx="1.7" ry="0.4" fill="#fff" fill-opacity="0.5"/>
<circle cx="296.8" cy="109" r="3.3" fill="url(#gO)"/>
<ellipse cx="296.8" cy="107.3" rx="2.5" ry="1.5" fill="#8a3a00" fill-opacity="0.45"/>
<ellipse cx="296.8" cy="108.5" rx="1.7" ry="0.4" fill="#fff" fill-opacity="0.5"/>
<circle cx="195.4" cy="110.7" r="3.3" fill="url(#gO)"/>
<ellipse cx="195.4" cy="109" rx="2.5" ry="1.5" fill="#8a3a00" fill-opacity="0.45"/>
<ellipse cx="195.4" cy="110.2" rx="1.7" ry="0.4" fill="#fff" fill-opacity="0.5"/>
<circle cx="225.7" cy="110.8" r="3.3" fill="url(#gO)"/>
<ellipse cx="225.7" cy="109.1" rx="2.5" ry="1.5" fill="#8a3a00" fill-opacity="0.45"/>
<ellipse cx="225.7" cy="110.3" rx="1.7" ry="0.4" fill="#fff" fill-opacity="0.5"/>
<circle cx="388.9" cy="113.8" r="3.3" fill="url(#gY)"/>
<ellipse cx="388.9" cy="112.1" rx="2.5" ry="1.5" fill="#8a7a00" fill-opacity="0.45"/>
<ellipse cx="388.9" cy="113.3" rx="1.7" ry="0.4" fill="#fff" fill-opacity="0.5"/>
<circle cx="372.2" cy="114.9" r="3.3" fill="url(#gY)"/>
<ellipse cx="372.2" cy="113.2" rx="2.5" ry="1.5" fill="#8a7a00" fill-opacity="0.45"/>
<ellipse cx="372.2" cy="114.4" rx="1.7" ry="0.4" fill="#fff" fill-opacity="0.5"/>
<circle cx="243.1" cy="118.6" r="3.3" fill="url(#gY)"/>
<ellipse cx="243.1" cy="116.9" rx="2.5" ry="1.5" fill="#8a7a00" fill-opacity="0.45"/>
<ellipse cx="243.1" cy="118.1" rx="1.7" ry="0.4" fill="#fff" fill-opacity="0.5"/>
<circle cx="263.9" cy="118.6" r="3.3" fill="url(#gY)"/>
<ellipse cx="263.9" cy="116.9" rx="2.5" ry="1.5" fill="#8a7a00" fill-opacity="0.45"/>
<ellipse cx="263.9" cy="118.1" rx="1.7" ry="0.4" fill="#fff" fill-opacity="0.5"/>
<circle cx="305.7" cy="120" r="3.3" fill="url(#gY)"/>
<ellipse cx="305.7" cy="118.3" rx="2.5" ry="1.5" fill="#8a7a00" fill-opacity="0.45"/>
<ellipse cx="305.7" cy="119.5" rx="1.7" ry="0.4" fill="#fff" fill-opacity="0.5"/>
<circle cx="347.7" cy="120.7" r="3.3" fill="url(#gY)"/>
<ellipse cx="347.7" cy="119" rx="2.5" ry="1.5" fill="#8a7a00" fill-opacity="0.45"/>
<ellipse cx="347.7" cy="120.2" rx="1.7" ry="0.4" fill="#fff" fill-opacity="0.5"/>
<circle cx="360.1" cy="120.7" r="3.3" fill="url(#gY)"/>
<ellipse cx="360.1" cy="119" rx="2.5" ry="1.5" fill="#8a7a00" fill-opacity="0.45"/>
<ellipse cx="360.1" cy="120.2" rx="1.7" ry="0.4" fill="#fff" fill-opacity="0.5"/>
<circle cx="376.3" cy="120.7" r="3.3" fill="url(#gY)"/>
<ellipse cx="376.3" cy="119" rx="2.5" ry="1.5" fill="#8a7a00" fill-opacity="0.45"/>
<ellipse cx="376.3" cy="120.2" rx="1.7" ry="0.4" fill="#fff" fill-opacity="0.5"/>
<circle cx="325.4" cy="124.4" r="3.3" fill="url(#gY)"/>
<ellipse cx="325.4" cy="122.7" rx="2.5" ry="1.5" fill="#8a7a00" fill-opacity="0.45"/>
<ellipse cx="325.4" cy="123.9" rx="1.7" ry="0.4" fill="#fff" fill-opacity="0.5"/>
<circle cx="373.4" cy="124.8" r="3.3" fill="url(#gY)"/>
<ellipse cx="373.4" cy="123.1" rx="2.5" ry="1.5" fill="#8a7a00" fill-opacity="0.45"/>
<ellipse cx="373.4" cy="124.3" rx="1.7" ry="0.4" fill="#fff" fill-opacity="0.5"/>
<circle cx="225.9" cy="125.1" r="3.3" fill="url(#gY)"/>
<ellipse cx="225.9" cy="123.4" rx="2.5" ry="1.5" fill="#8a7a00" fill-opacity="0.45"/>
<ellipse cx="225.9" cy="124.6" rx="1.7" ry="0.4" fill="#fff" fill-opacity="0.5"/>
<circle cx="252.7" cy="125.1" r="3.3" fill="url(#gY)"/>
<ellipse cx="252.7" cy="123.4" rx="2.5" ry="1.5" fill="#8a7a00" fill-opacity="0.45"/>
<ellipse cx="252.7" cy="124.6" rx="1.7" ry="0.4" fill="#fff" fill-opacity="0.5"/>
<circle cx="368.8" cy="126.8" r="3.3" fill="url(#gG)"/>
<ellipse cx="368.8" cy="125.1" rx="2.5" ry="1.5" fill="#3e7a00" fill-opacity="0.45"/>
<ellipse cx="368.8" cy="126.3" rx="1.7" ry="0.4" fill="#fff" fill-opacity="0.5"/>
<circle cx="379.3" cy="129.1" r="3.3" fill="url(#gY)"/>
<ellipse cx="379.3" cy="127.4" rx="2.5" ry="1.5" fill="#8a7a00" fill-opacity="0.45"/>
<ellipse cx="379.3" cy="128.6" rx="1.7" ry="0.4" fill="#fff" fill-opacity="0.5"/>
<circle cx="293.8" cy="130.1" r="3.3" fill="url(#gY)"/>
<ellipse cx="293.8" cy="128.4" rx="2.5" ry="1.5" fill="#8a7a00" fill-opacity="0.45"/>
<ellipse cx="293.8" cy="129.6" rx="1.7" ry="0.4" fill="#fff" fill-opacity="0.5"/>
<circle cx="363" cy="130.4" r="3.3" fill="url(#gG)"/>
<ellipse cx="363" cy="128.7" rx="2.5" ry="1.5" fill="#3e7a00" fill-opacity="0.45"/>
<ellipse cx="363" cy="129.9" rx="1.7" ry="0.4" fill="#fff" fill-opacity="0.5"/>
<circle cx="269.8" cy="130.7" r="3.3" fill="url(#gY)"/>
<ellipse cx="269.8" cy="129" rx="2.5" ry="1.5" fill="#8a7a00" fill-opacity="0.45"/>
<ellipse cx="269.8" cy="130.2" rx="1.7" ry="0.4" fill="#fff" fill-opacity="0.5"/>
<circle cx="244.1" cy="130.9" r="3.3" fill="url(#gY)"/>
<ellipse cx="244.1" cy="129.2" rx="2.5" ry="1.5" fill="#8a7a00" fill-opacity="0.45"/>
<ellipse cx="244.1" cy="130.4" rx="1.7" ry="0.4" fill="#fff" fill-opacity="0.5"/>
<circle cx="367.6" cy="131.4" r="3.3" fill="url(#gG)"/>
<ellipse cx="367.6" cy="129.7" rx="2.5" ry="1.5" fill="#3e7a00" fill-opacity="0.45"/>
<ellipse cx="367.6" cy="130.9" rx="1.7" ry="0.4" fill="#fff" fill-opacity="0.5"/>
<circle cx="232.6" cy="132.8" r="3.3" fill="url(#gY)"/>
<ellipse cx="232.6" cy="131.1" rx="2.5" ry="1.5" fill="#8a7a00" fill-opacity="0.45"/>
<ellipse cx="232.6" cy="132.3" rx="1.7" ry="0.4" fill="#fff" fill-opacity="0.5"/>
<circle cx="304.7" cy="134.5" r="3.3" fill="url(#gY)"/>
<ellipse cx="304.7" cy="132.8" rx="2.5" ry="1.5" fill="#8a7a00" fill-opacity="0.45"/>
<ellipse cx="304.7" cy="134" rx="1.7" ry="0.4" fill="#fff" fill-opacity="0.5"/>
<circle cx="265.8" cy="136.8" r="3.3" fill="url(#gY)"/>
<ellipse cx="265.8" cy="135.1" rx="2.5" ry="1.5" fill="#8a7a00" fill-opacity="0.45"/>
<ellipse cx="265.8" cy="136.3" rx="1.7" ry="0.4" fill="#fff" fill-opacity="0.5"/>
<circle cx="347.6" cy="139.2" r="3.3" fill="url(#gG)"/>
<ellipse cx="347.6" cy="137.5" rx="2.5" ry="1.5" fill="#3e7a00" fill-opacity="0.45"/>
<ellipse cx="347.6" cy="138.7" rx="1.7" ry="0.4" fill="#fff" fill-opacity="0.5"/>
<circle cx="364.9" cy="139.2" r="3.3" fill="url(#gG)"/>
<ellipse cx="364.9" cy="137.5" rx="2.5" ry="1.5" fill="#3e7a00" fill-opacity="0.45"/>
<ellipse cx="364.9" cy="138.7" rx="1.7" ry="0.4" fill="#fff" fill-opacity="0.5"/>
<circle cx="334.1" cy="144.8" r="3.3" fill="url(#gG)"/>
<ellipse cx="334.1" cy="143.1" rx="2.5" ry="1.5" fill="#3e7a00" fill-opacity="0.45"/>
<ellipse cx="334.1" cy="144.3" rx="1.7" ry="0.4" fill="#fff" fill-opacity="0.5"/>
<circle cx="243.1" cy="145" r="3.3" fill="url(#gG)"/>
<ellipse cx="243.1" cy="143.3" rx="2.5" ry="1.5" fill="#3e7a00" fill-opacity="0.45"/>
<ellipse cx="243.1" cy="144.5" rx="1.7" ry="0.4" fill="#fff" fill-opacity="0.5"/>
<circle cx="311.4" cy="145.2" r="3.3" fill="url(#gG)"/>
<ellipse cx="311.4" cy="143.5" rx="2.5" ry="1.5" fill="#3e7a00" fill-opacity="0.45"/>
<ellipse cx="311.4" cy="144.7" rx="1.7" ry="0.4" fill="#fff" fill-opacity="0.5"/>
<circle cx="322" cy="145.2" r="3.3" fill="url(#gG)"/>
<ellipse cx="322" cy="143.5" rx="2.5" ry="1.5" fill="#3e7a00" fill-opacity="0.45"/>
<ellipse cx="322" cy="144.7" rx="1.7" ry="0.4" fill="#fff" fill-opacity="0.5"/>
<circle cx="258.5" cy="145.8" r="3.3" fill="url(#gG)"/>
<ellipse cx="258.5" cy="144.1" rx="2.5" ry="1.5" fill="#3e7a00" fill-opacity="0.45"/>
<ellipse cx="258.5" cy="145.3" rx="1.7" ry="0.4" fill="#fff" fill-opacity="0.5"/>
<circle cx="277.5" cy="146.4" r="3.3" fill="url(#gG)"/>
<ellipse cx="277.5" cy="144.7" rx="2.5" ry="1.5" fill="#3e7a00" fill-opacity="0.45"/>
<ellipse cx="277.5" cy="145.9" rx="1.7" ry="0.4" fill="#fff" fill-opacity="0.5"/>
<circle cx="298.1" cy="149.3" r="3.3" fill="url(#gG)"/>
<ellipse cx="298.1" cy="147.6" rx="2.5" ry="1.5" fill="#3e7a00" fill-opacity="0.45"/>
<ellipse cx="298.1" cy="148.8" rx="1.7" ry="0.4" fill="#fff" fill-opacity="0.5"/>
<circle cx="281.2" cy="151.2" r="3.3" fill="url(#gG)"/>
<ellipse cx="281.2" cy="149.5" rx="2.5" ry="1.5" fill="#3e7a00" fill-opacity="0.45"/>
<ellipse cx="281.2" cy="150.7" rx="1.7" ry="0.4" fill="#fff" fill-opacity="0.5"/>
<circle cx="276.8" cy="158.6" r="3.3" fill="url(#gT)"/>
<ellipse cx="276.8" cy="156.9" rx="2.5" ry="1.5" fill="#008048" fill-opacity="0.45"/>
<ellipse cx="276.8" cy="158.1" rx="1.7" ry="0.4" fill="#fff" fill-opacity="0.5"/>
<circle cx="301.4" cy="162.1" r="3.3" fill="url(#gT)"/>
<ellipse cx="301.4" cy="160.4" rx="2.5" ry="1.5" fill="#008048" fill-opacity="0.45"/>
<ellipse cx="301.4" cy="161.6" rx="1.7" ry="0.4" fill="#fff" fill-opacity="0.5"/>
<circle cx="264.7" cy="162.9" r="3.3" fill="url(#gT)"/>
<ellipse cx="264.7" cy="161.2" rx="2.5" ry="1.5" fill="#008048" fill-opacity="0.45"/>
<ellipse cx="264.7" cy="162.4" rx="1.7" ry="0.4" fill="#fff" fill-opacity="0.5"/>
<circle cx="288.9" cy="165" r="3.3" fill="url(#gT)"/>
<ellipse cx="288.9" cy="163.3" rx="2.5" ry="1.5" fill="#008048" fill-opacity="0.45"/>
<ellipse cx="288.9" cy="164.5" rx="1.7" ry="0.4" fill="#fff" fill-opacity="0.5"/>
<circle cx="196.5" cy="167.2" r="3.3" fill="url(#gC)"/>
<ellipse cx="196.5" cy="165.5" rx="2.5" ry="1.5" fill="#00707e" fill-opacity="0.45"/>
<ellipse cx="196.5" cy="166.7" rx="1.7" ry="0.4" fill="#fff" fill-opacity="0.5"/>
<circle cx="299.8" cy="168.2" r="3.3" fill="url(#gT)"/>
<ellipse cx="299.8" cy="166.5" rx="2.5" ry="1.5" fill="#008048" fill-opacity="0.45"/>
<ellipse cx="299.8" cy="167.7" rx="1.7" ry="0.4" fill="#fff" fill-opacity="0.5"/>
<circle cx="273.6" cy="168.6" r="3.3" fill="url(#gT)"/>
<ellipse cx="273.6" cy="166.9" rx="2.5" ry="1.5" fill="#008048" fill-opacity="0.45"/>
<ellipse cx="273.6" cy="168.1" rx="1.7" ry="0.4" fill="#fff" fill-opacity="0.5"/>
<circle cx="244.2" cy="168.6" r="3.3" fill="url(#gC)"/>
<ellipse cx="244.2" cy="166.9" rx="2.5" ry="1.5" fill="#00707e" fill-opacity="0.45"/>
<ellipse cx="244.2" cy="168.1" rx="1.7" ry="0.4" fill="#fff" fill-opacity="0.5"/>
<circle cx="231.2" cy="168.6" r="3.3" fill="url(#gC)"/>
<ellipse cx="231.2" cy="166.9" rx="2.5" ry="1.5" fill="#00707e" fill-opacity="0.45"/>
<ellipse cx="231.2" cy="168.1" rx="1.7" ry="0.4" fill="#fff" fill-opacity="0.5"/>
<circle cx="287.6" cy="170.1" r="3.3" fill="url(#gC)"/>
<ellipse cx="287.6" cy="168.4" rx="2.5" ry="1.5" fill="#00707e" fill-opacity="0.45"/>
<ellipse cx="287.6" cy="169.6" rx="1.7" ry="0.4" fill="#fff" fill-opacity="0.5"/>
<circle cx="300.6" cy="171.5" r="3.3" fill="url(#gT)"/>
<ellipse cx="300.6" cy="169.8" rx="2.5" ry="1.5" fill="#008048" fill-opacity="0.45"/>
<ellipse cx="300.6" cy="171" rx="1.7" ry="0.4" fill="#fff" fill-opacity="0.5"/>
<circle cx="336.5" cy="172" r="3.3" fill="url(#gC)"/>
<ellipse cx="336.5" cy="170.3" rx="2.5" ry="1.5" fill="#00707e" fill-opacity="0.45"/>
<ellipse cx="336.5" cy="171.5" rx="1.7" ry="0.4" fill="#fff" fill-opacity="0.5"/>
<circle cx="293.7" cy="172.1" r="3.3" fill="url(#gT)"/>
<ellipse cx="293.7" cy="170.4" rx="2.5" ry="1.5" fill="#008048" fill-opacity="0.45"/>
<ellipse cx="293.7" cy="171.6" rx="1.7" ry="0.4" fill="#fff" fill-opacity="0.5"/>
<circle cx="168.7" cy="172.1" r="3.3" fill="url(#gC)"/>
<ellipse cx="168.7" cy="170.4" rx="2.5" ry="1.5" fill="#00707e" fill-opacity="0.45"/>
<ellipse cx="168.7" cy="171.6" rx="1.7" ry="0.4" fill="#fff" fill-opacity="0.5"/>
<circle cx="153.7" cy="172.3" r="3.3" fill="url(#gC)"/>
<ellipse cx="153.7" cy="170.6" rx="2.5" ry="1.5" fill="#00707e" fill-opacity="0.45"/>
<ellipse cx="153.7" cy="171.8" rx="1.7" ry="0.4" fill="#fff" fill-opacity="0.5"/>
<circle cx="287" cy="172.6" r="3.3" fill="url(#gC)"/>
<ellipse cx="287" cy="170.9" rx="2.5" ry="1.5" fill="#00707e" fill-opacity="0.45"/>
<ellipse cx="287" cy="172.1" rx="1.7" ry="0.4" fill="#fff" fill-opacity="0.5"/>
<circle cx="350.6" cy="173.8" r="3.3" fill="url(#gC)"/>
<ellipse cx="350.6" cy="172.1" rx="2.5" ry="1.5" fill="#00707e" fill-opacity="0.45"/>
<ellipse cx="350.6" cy="173.3" rx="1.7" ry="0.4" fill="#fff" fill-opacity="0.5"/>
<circle cx="377.5" cy="173.8" r="3.3" fill="url(#gC)"/>
<ellipse cx="377.5" cy="172.1" rx="2.5" ry="1.5" fill="#00707e" fill-opacity="0.45"/>
<ellipse cx="377.5" cy="173.3" rx="1.7" ry="0.4" fill="#fff" fill-opacity="0.5"/>
<circle cx="183.2" cy="174" r="3.3" fill="url(#gC)"/>
<ellipse cx="183.2" cy="172.3" rx="2.5" ry="1.5" fill="#00707e" fill-opacity="0.45"/>
<ellipse cx="183.2" cy="173.5" rx="1.7" ry="0.4" fill="#fff" fill-opacity="0.5"/>
<circle cx="251" cy="175.1" r="3.3" fill="url(#gC)"/>
<ellipse cx="251" cy="173.4" rx="2.5" ry="1.5" fill="#00707e" fill-opacity="0.45"/>
<ellipse cx="251" cy="174.6" rx="1.7" ry="0.4" fill="#fff" fill-opacity="0.5"/>
<circle cx="207" cy="175.1" r="3.3" fill="url(#gC)"/>
<ellipse cx="207" cy="173.4" rx="2.5" ry="1.5" fill="#00707e" fill-opacity="0.45"/>
<ellipse cx="207" cy="174.6" rx="1.7" ry="0.4" fill="#fff" fill-opacity="0.5"/>
<circle cx="159.3" cy="175.6" r="3.3" fill="url(#gC)"/>
<ellipse cx="159.3" cy="173.9" rx="2.5" ry="1.5" fill="#00707e" fill-opacity="0.45"/>
<ellipse cx="159.3" cy="175.1" rx="1.7" ry="0.4" fill="#fff" fill-opacity="0.5"/>
<circle cx="150.9" cy="175.9" r="3.3" fill="url(#gC)"/>
<ellipse cx="150.9" cy="174.2" rx="2.5" ry="1.5" fill="#00707e" fill-opacity="0.45"/>
<ellipse cx="150.9" cy="175.4" rx="1.7" ry="0.4" fill="#fff" fill-opacity="0.5"/>
<circle cx="225.9" cy="177.2" r="3.3" fill="url(#gC)"/>
<ellipse cx="225.9" cy="175.5" rx="2.5" ry="1.5" fill="#00707e" fill-opacity="0.45"/>
<ellipse cx="225.9" cy="176.7" rx="1.7" ry="0.4" fill="#fff" fill-opacity="0.5"/>
<circle cx="146.8" cy="178" r="3.3" fill="url(#gT)"/>
<ellipse cx="146.8" cy="176.3" rx="2.5" ry="1.5" fill="#008048" fill-opacity="0.45"/>
<ellipse cx="146.8" cy="177.5" rx="1.7" ry="0.4" fill="#fff" fill-opacity="0.5"/>
<circle cx="274.1" cy="178.4" r="3.3" fill="url(#gC)"/>
<ellipse cx="274.1" cy="176.7" rx="2.5" ry="1.5" fill="#00707e" fill-opacity="0.45"/>
<ellipse cx="274.1" cy="177.9" rx="1.7" ry="0.4" fill="#fff" fill-opacity="0.5"/>
<circle cx="238" cy="178.5" r="3.3" fill="url(#gC)"/>
<ellipse cx="238" cy="176.8" rx="2.5" ry="1.5" fill="#00707e" fill-opacity="0.45"/>
<ellipse cx="238" cy="178" rx="1.7" ry="0.4" fill="#fff" fill-opacity="0.5"/>
<circle cx="312.4" cy="179.5" r="3.3" fill="url(#gC)"/>
<ellipse cx="312.4" cy="177.8" rx="2.5" ry="1.5" fill="#00707e" fill-opacity="0.45"/>
<ellipse cx="312.4" cy="179" rx="1.7" ry="0.4" fill="#fff" fill-opacity="0.5"/>
<circle cx="264.1" cy="179.9" r="3.3" fill="url(#gC)"/>
<ellipse cx="264.1" cy="178.2" rx="2.5" ry="1.5" fill="#00707e" fill-opacity="0.45"/>
<ellipse cx="264.1" cy="179.4" rx="1.7" ry="0.4" fill="#fff" fill-opacity="0.5"/>
<circle cx="346.5" cy="180.3" r="3.3" fill="url(#gB)"/>
<ellipse cx="346.5" cy="178.6" rx="2.5" ry="1.5" fill="#00287a" fill-opacity="0.45"/>
<ellipse cx="346.5" cy="179.8" rx="1.7" ry="0.4" fill="#fff" fill-opacity="0.5"/>
<circle cx="284.1" cy="181.1" r="3.3" fill="url(#gC)"/>
<ellipse cx="284.1" cy="179.4" rx="2.5" ry="1.5" fill="#00707e" fill-opacity="0.45"/>
<ellipse cx="284.1" cy="180.6" rx="1.7" ry="0.4" fill="#fff" fill-opacity="0.5"/>
<circle cx="365" cy="181.5" r="3.3" fill="url(#gC)"/>
<ellipse cx="365" cy="179.8" rx="2.5" ry="1.5" fill="#00707e" fill-opacity="0.45"/>
<ellipse cx="365" cy="181" rx="1.7" ry="0.4" fill="#fff" fill-opacity="0.5"/>
<circle cx="385.4" cy="181.5" r="3.3" fill="url(#gC)"/>
<ellipse cx="385.4" cy="179.8" rx="2.5" ry="1.5" fill="#00707e" fill-opacity="0.45"/>
<ellipse cx="385.4" cy="181" rx="1.7" ry="0.4" fill="#fff" fill-opacity="0.5"/>
<circle cx="153.1" cy="182.5" r="3.3" fill="url(#gC)"/>
<ellipse cx="153.1" cy="180.8" rx="2.5" ry="1.5" fill="#00707e" fill-opacity="0.45"/>
<ellipse cx="153.1" cy="182" rx="1.7" ry="0.4" fill="#fff" fill-opacity="0.5"/>
<circle cx="156.1" cy="184.7" r="3.3" fill="url(#gC)"/>
<ellipse cx="156.1" cy="183" rx="2.5" ry="1.5" fill="#00707e" fill-opacity="0.45"/>
<ellipse cx="156.1" cy="184.2" rx="1.7" ry="0.4" fill="#fff" fill-opacity="0.5"/>
<circle cx="265" cy="185.1" r="3.3" fill="url(#gC)"/>
<ellipse cx="265" cy="183.4" rx="2.5" ry="1.5" fill="#00707e" fill-opacity="0.45"/>
<ellipse cx="265" cy="184.6" rx="1.7" ry="0.4" fill="#fff" fill-opacity="0.5"/>
<circle cx="297" cy="185.1" r="3.3" fill="url(#gC)"/>
<ellipse cx="297" cy="183.4" rx="2.5" ry="1.5" fill="#00707e" fill-opacity="0.45"/>
<ellipse cx="297" cy="184.6" rx="1.7" ry="0.4" fill="#fff" fill-opacity="0.5"/>
<circle cx="166.4" cy="185.8" r="3.3" fill="url(#gC)"/>
<ellipse cx="166.4" cy="184.1" rx="2.5" ry="1.5" fill="#00707e" fill-opacity="0.45"/>
<ellipse cx="166.4" cy="185.3" rx="1.7" ry="0.4" fill="#fff" fill-opacity="0.5"/>
<circle cx="152.3" cy="186.8" r="3.3" fill="url(#gC)"/>
<ellipse cx="152.3" cy="185.1" rx="2.5" ry="1.5" fill="#00707e" fill-opacity="0.45"/>
<ellipse cx="152.3" cy="186.3" rx="1.7" ry="0.4" fill="#fff" fill-opacity="0.5"/>
<circle cx="313.9" cy="188" r="3.3" fill="url(#gB)"/>
<ellipse cx="313.9" cy="186.3" rx="2.5" ry="1.5" fill="#00287a" fill-opacity="0.45"/>
<ellipse cx="313.9" cy="187.5" rx="1.7" ry="0.4" fill="#fff" fill-opacity="0.5"/>
<circle cx="235.9" cy="189" r="3.3" fill="url(#gB)"/>
<ellipse cx="235.9" cy="187.3" rx="2.5" ry="1.5" fill="#00287a" fill-opacity="0.45"/>
<ellipse cx="235.9" cy="188.5" rx="1.7" ry="0.4" fill="#fff" fill-opacity="0.5"/>
<circle cx="324.2" cy="189.4" r="3.3" fill="url(#gB)"/>
<ellipse cx="324.2" cy="187.7" rx="2.5" ry="1.5" fill="#00287a" fill-opacity="0.45"/>
<ellipse cx="324.2" cy="188.9" rx="1.7" ry="0.4" fill="#fff" fill-opacity="0.5"/>
<circle cx="350.7" cy="189.4" r="3.3" fill="url(#gB)"/>
<ellipse cx="350.7" cy="187.7" rx="2.5" ry="1.5" fill="#00287a" fill-opacity="0.45"/>
<ellipse cx="350.7" cy="188.9" rx="1.7" ry="0.4" fill="#fff" fill-opacity="0.5"/>
<circle cx="360.3" cy="189.4" r="3.3" fill="url(#gB)"/>
<ellipse cx="360.3" cy="187.7" rx="2.5" ry="1.5" fill="#00287a" fill-opacity="0.45"/>
<ellipse cx="360.3" cy="188.9" rx="1.7" ry="0.4" fill="#fff" fill-opacity="0.5"/>
<circle cx="228.2" cy="190" r="3.3" fill="url(#gB)"/>
<ellipse cx="228.2" cy="188.3" rx="2.5" ry="1.5" fill="#00287a" fill-opacity="0.45"/>
<ellipse cx="228.2" cy="189.5" rx="1.7" ry="0.4" fill="#fff" fill-opacity="0.5"/>
<circle cx="172" cy="190.3" r="3.3" fill="url(#gB)"/>
<ellipse cx="172" cy="188.6" rx="2.5" ry="1.5" fill="#00287a" fill-opacity="0.45"/>
<ellipse cx="172" cy="189.8" rx="1.7" ry="0.4" fill="#fff" fill-opacity="0.5"/>
<circle cx="247.1" cy="191.9" r="3.3" fill="url(#gB)"/>
<ellipse cx="247.1" cy="190.2" rx="2.5" ry="1.5" fill="#00287a" fill-opacity="0.45"/>
<ellipse cx="247.1" cy="191.4" rx="1.7" ry="0.4" fill="#fff" fill-opacity="0.5"/>
<circle cx="183.6" cy="192" r="3.3" fill="url(#gB)"/>
<ellipse cx="183.6" cy="190.3" rx="2.5" ry="1.5" fill="#00287a" fill-opacity="0.45"/>
<ellipse cx="183.6" cy="191.5" rx="1.7" ry="0.4" fill="#fff" fill-opacity="0.5"/>
<circle cx="339.2" cy="192.2" r="3.3" fill="url(#gB)"/>
<ellipse cx="339.2" cy="190.5" rx="2.5" ry="1.5" fill="#00287a" fill-opacity="0.45"/>
<ellipse cx="339.2" cy="191.7" rx="1.7" ry="0.4" fill="#fff" fill-opacity="0.5"/>
<circle cx="230.9" cy="192.9" r="3.3" fill="url(#gB)"/>
<ellipse cx="230.9" cy="191.2" rx="2.5" ry="1.5" fill="#00287a" fill-opacity="0.45"/>
<ellipse cx="230.9" cy="192.4" rx="1.7" ry="0.4" fill="#fff" fill-opacity="0.5"/>
<circle cx="211.6" cy="194.2" r="3.3" fill="url(#gB)"/>
<ellipse cx="211.6" cy="192.5" rx="2.5" ry="1.5" fill="#00287a" fill-opacity="0.45"/>
<ellipse cx="211.6" cy="193.7" rx="1.7" ry="0.4" fill="#fff" fill-opacity="0.5"/>
<circle cx="274.1" cy="194.5" r="3.3" fill="url(#gB)"/>
<ellipse cx="274.1" cy="192.8" rx="2.5" ry="1.5" fill="#00287a" fill-opacity="0.45"/>
<ellipse cx="274.1" cy="194" rx="1.7" ry="0.4" fill="#fff" fill-opacity="0.5"/>
<circle cx="305.8" cy="194.5" r="3.3" fill="url(#gB)"/>
<ellipse cx="305.8" cy="192.8" rx="2.5" ry="1.5" fill="#00287a" fill-opacity="0.45"/>
<ellipse cx="305.8" cy="194" rx="1.7" ry="0.4" fill="#fff" fill-opacity="0.5"/>
<circle cx="259.8" cy="194.7" r="3.3" fill="url(#gB)"/>
<ellipse cx="259.8" cy="193" rx="2.5" ry="1.5" fill="#00287a" fill-opacity="0.45"/>
<ellipse cx="259.8" cy="194.2" rx="1.7" ry="0.4" fill="#fff" fill-opacity="0.5"/>
<circle cx="297" cy="195.5" r="3.3" fill="url(#gB)"/>
<ellipse cx="297" cy="193.8" rx="2.5" ry="1.5" fill="#00287a" fill-opacity="0.45"/>
<ellipse cx="297" cy="195" rx="1.7" ry="0.4" fill="#fff" fill-opacity="0.5"/>
<circle cx="318" cy="196" r="3.3" fill="url(#gB)"/>
<ellipse cx="318" cy="194.3" rx="2.5" ry="1.5" fill="#00287a" fill-opacity="0.45"/>
<ellipse cx="318" cy="195.5" rx="1.7" ry="0.4" fill="#fff" fill-opacity="0.5"/>
<circle cx="208.6" cy="196.5" r="3.3" fill="url(#gB)"/>
<ellipse cx="208.6" cy="194.8" rx="2.5" ry="1.5" fill="#00287a" fill-opacity="0.45"/>
<ellipse cx="208.6" cy="196" rx="1.7" ry="0.4" fill="#fff" fill-opacity="0.5"/>
<circle cx="284.1" cy="197" r="3.3" fill="url(#gB)"/>
<ellipse cx="284.1" cy="195.3" rx="2.5" ry="1.5" fill="#00287a" fill-opacity="0.45"/>
<ellipse cx="284.1" cy="196.5" rx="1.7" ry="0.4" fill="#fff" fill-opacity="0.5"/>
<circle cx="197.7" cy="198" r="3.3" fill="url(#gB)"/>
<ellipse cx="197.7" cy="196.3" rx="2.5" ry="1.5" fill="#00287a" fill-opacity="0.45"/>
<ellipse cx="197.7" cy="197.5" rx="1.7" ry="0.4" fill="#fff" fill-opacity="0.5"/>
<circle cx="183.5" cy="200.4" r="3.3" fill="url(#gB)"/>
<ellipse cx="183.5" cy="198.7" rx="2.5" ry="1.5" fill="#00287a" fill-opacity="0.45"/>
<ellipse cx="183.5" cy="199.9" rx="1.7" ry="0.4" fill="#fff" fill-opacity="0.5"/>
<circle cx="267.4" cy="200.8" r="3.3" fill="url(#gB)"/>
<ellipse cx="267.4" cy="199.1" rx="2.5" ry="1.5" fill="#00287a" fill-opacity="0.45"/>
<ellipse cx="267.4" cy="200.3" rx="1.7" ry="0.4" fill="#fff" fill-opacity="0.5"/>
<circle cx="164.9" cy="201.2" r="3.3" fill="url(#gB)"/>
<ellipse cx="164.9" cy="199.5" rx="2.5" ry="1.5" fill="#00287a" fill-opacity="0.45"/>
<ellipse cx="164.9" cy="200.7" rx="1.7" ry="0.4" fill="#fff" fill-opacity="0.5"/>
<circle cx="227" cy="203.2" r="3.3" fill="url(#gD)"/>
<ellipse cx="227" cy="201.5" rx="2.5" ry="1.5" fill="#000868" fill-opacity="0.45"/>
<ellipse cx="227" cy="202.7" rx="1.7" ry="0.4" fill="#fff" fill-opacity="0.5"/>
<circle cx="290.8" cy="203.3" r="3.3" fill="url(#gB)"/>
<ellipse cx="290.8" cy="201.6" rx="2.5" ry="1.5" fill="#00287a" fill-opacity="0.45"/>
<ellipse cx="290.8" cy="202.8" rx="1.7" ry="0.4" fill="#fff" fill-opacity="0.5"/>
<circle cx="237.1" cy="203.8" r="3.3" fill="url(#gB)"/>
<ellipse cx="237.1" cy="202.1" rx="2.5" ry="1.5" fill="#00287a" fill-opacity="0.45"/>
<ellipse cx="237.1" cy="203.3" rx="1.7" ry="0.4" fill="#fff" fill-opacity="0.5"/>
<circle cx="190.2" cy="204.2" r="3.3" fill="url(#gD)"/>
<ellipse cx="190.2" cy="202.5" rx="2.5" ry="1.5" fill="#000868" fill-opacity="0.45"/>
<ellipse cx="190.2" cy="203.7" rx="1.7" ry="0.4" fill="#fff" fill-opacity="0.5"/>
<circle cx="232.3" cy="204.2" r="3.3" fill="url(#gD)"/>
<ellipse cx="232.3" cy="202.5" rx="2.5" ry="1.5" fill="#000868" fill-opacity="0.45"/>
<ellipse cx="232.3" cy="203.7" rx="1.7" ry="0.4" fill="#fff" fill-opacity="0.5"/>
<circle cx="212.2" cy="205.7" r="3.3" fill="url(#gB)"/>
<ellipse cx="212.2" cy="204" rx="2.5" ry="1.5" fill="#00287a" fill-opacity="0.45"/>
<ellipse cx="212.2" cy="205.2" rx="1.7" ry="0.4" fill="#fff" fill-opacity="0.5"/>
<circle cx="204" cy="207.1" r="3.3" fill="url(#gB)"/>
<ellipse cx="204" cy="205.4" rx="2.5" ry="1.5" fill="#00287a" fill-opacity="0.45"/>
<ellipse cx="204" cy="206.6" rx="1.7" ry="0.4" fill="#fff" fill-opacity="0.5"/>
<circle cx="251.5" cy="207.2" r="3.3" fill="url(#gB)"/>
<ellipse cx="251.5" cy="205.5" rx="2.5" ry="1.5" fill="#00287a" fill-opacity="0.45"/>
<ellipse cx="251.5" cy="206.7" rx="1.7" ry="0.4" fill="#fff" fill-opacity="0.5"/>
<circle cx="241.9" cy="207.2" r="3.3" fill="url(#gD)"/>
<ellipse cx="241.9" cy="205.5" rx="2.5" ry="1.5" fill="#000868" fill-opacity="0.45"/>
<ellipse cx="241.9" cy="206.7" rx="1.7" ry="0.4" fill="#fff" fill-opacity="0.5"/>
<circle cx="218.3" cy="207.4" r="3.3" fill="url(#gD)"/>
<ellipse cx="218.3" cy="205.7" rx="2.5" ry="1.5" fill="#000868" fill-opacity="0.45"/>
<ellipse cx="218.3" cy="206.9" rx="1.7" ry="0.4" fill="#fff" fill-opacity="0.5"/>
<circle cx="186.9" cy="207.6" r="3.3" fill="url(#gB)"/>
<ellipse cx="186.9" cy="205.9" rx="2.5" ry="1.5" fill="#00287a" fill-opacity="0.45"/>
<ellipse cx="186.9" cy="207.1" rx="1.7" ry="0.4" fill="#fff" fill-opacity="0.5"/>
<circle cx="241.4" cy="208" r="3.3" fill="url(#gB)"/>
<ellipse cx="241.4" cy="206.3" rx="2.5" ry="1.5" fill="#00287a" fill-opacity="0.45"/>
<ellipse cx="241.4" cy="207.5" rx="1.7" ry="0.4" fill="#fff" fill-opacity="0.5"/>
<circle cx="197.6" cy="208.6" r="3.3" fill="url(#gB)"/>
<ellipse cx="197.6" cy="206.9" rx="2.5" ry="1.5" fill="#00287a" fill-opacity="0.45"/>
<ellipse cx="197.6" cy="208.1" rx="1.7" ry="0.4" fill="#fff" fill-opacity="0.5"/>
<circle cx="192.4" cy="211.5" r="3.3" fill="url(#gD)"/>
<ellipse cx="192.4" cy="209.8" rx="2.5" ry="1.5" fill="#000868" fill-opacity="0.45"/>
<ellipse cx="192.4" cy="211" rx="1.7" ry="0.4" fill="#fff" fill-opacity="0.5"/>
<circle cx="201.7" cy="211.5" r="3.3" fill="url(#gD)"/>
<ellipse cx="201.7" cy="209.8" rx="2.5" ry="1.5" fill="#000868" fill-opacity="0.45"/>
<ellipse cx="201.7" cy="211" rx="1.7" ry="0.4" fill="#fff" fill-opacity="0.5"/>
<circle cx="236.2" cy="211.9" r="3.3" fill="url(#gD)"/>
<ellipse cx="236.2" cy="210.2" rx="2.5" ry="1.5" fill="#000868" fill-opacity="0.45"/>
<ellipse cx="236.2" cy="211.4" rx="1.7" ry="0.4" fill="#fff" fill-opacity="0.5"/>
<circle cx="210.7" cy="213.2" r="3.3" fill="url(#gB)"/>
<ellipse cx="210.7" cy="211.5" rx="2.5" ry="1.5" fill="#00287a" fill-opacity="0.45"/>
<ellipse cx="210.7" cy="212.7" rx="1.7" ry="0.4" fill="#fff" fill-opacity="0.5"/>
<circle cx="385.5" cy="114.7" r="3.3" fill="url(#gO2)"/>
<ellipse cx="385.5" cy="113" rx="2.5" ry="1.5" fill="#8a3a00" fill-opacity="0.45"/>
<ellipse cx="385.5" cy="114.2" rx="1.7" ry="0.4" fill="#fff" fill-opacity="0.5"/>
<circle cx="225.1" cy="214.7" r="3.3" fill="url(#gB)"/>
<ellipse cx="225.1" cy="213" rx="2.5" ry="1.5" fill="#00287a" fill-opacity="0.45"/>
<ellipse cx="225.1" cy="214.2" rx="1.7" ry="0.4" fill="#fff" fill-opacity="0.5"/>
<circle cx="216" cy="214.7" r="3.3" fill="url(#gD)"/>
<ellipse cx="216" cy="213" rx="2.5" ry="1.5" fill="#000868" fill-opacity="0.45"/>
<ellipse cx="216" cy="214.2" rx="1.7" ry="0.4" fill="#fff" fill-opacity="0.5"/>
<circle cx="221.8" cy="219.5" r="3.3" fill="url(#gD)"/>
<ellipse cx="221.8" cy="217.8" rx="2.5" ry="1.5" fill="#000868" fill-opacity="0.45"/>
<ellipse cx="221.8" cy="219" rx="1.7" ry="0.4" fill="#fff" fill-opacity="0.5"/>
<circle cx="206.8" cy="220.1" r="3.3" fill="url(#gD)"/>
<ellipse cx="206.8" cy="218.4" rx="2.5" ry="1.5" fill="#000868" fill-opacity="0.45"/>
<ellipse cx="206.8" cy="219.6" rx="1.7" ry="0.4" fill="#fff" fill-opacity="0.5"/>
<circle cx="212.6" cy="221.8" r="3.3" fill="url(#gD)"/>
<ellipse cx="212.6" cy="220.1" rx="2.5" ry="1.5" fill="#000868" fill-opacity="0.45"/>
<ellipse cx="212.6" cy="221.3" rx="1.7" ry="0.4" fill="#fff" fill-opacity="0.5"/>
<rect x="429.9" y="83.5" width="9" height="13.22" fill="#ec1218"/>
<rect x="429.9" y="96.72" width="9" height="13.22" fill="#f27812"/>
<line x1="429.9" y1="96.72" x2="438.9" y2="96.72" stroke="#111" stroke-opacity="0.75" stroke-width="0.7"/>
<rect x="429.9" y="109.94" width="9" height="13.22" fill="#fae614"/>
<line x1="429.9" y1="109.94" x2="438.9" y2="109.94" stroke="#111" stroke-opacity="0.75" stroke-width="0.7"/>
<rect x="429.9" y="123.16" width="9" height="13.22" fill="#98e254"/>
<line x1="429.9" y1="123.16" x2="438.9" y2="123.16" stroke="#111" stroke-opacity="0.75" stroke-width="0.7"/>
<rect x="429.9" y="136.38" width="9" height="13.22" fill="#58eaa6"/>
<line x1="429.9" y1="136.38" x2="438.9" y2="136.38" stroke="#111" stroke-opacity="0.75" stroke-width="0.7"/>
<rect x="429.9" y="149.6" width="9" height="13.22" fill="#22dcf0"/>
<line x1="429.9" y1="149.6" x2="438.9" y2="149.6" stroke="#111" stroke-opacity="0.75" stroke-width="0.7"/>
<rect x="429.9" y="162.82" width="9" height="13.22" fill="#1a8af2"/>
<line x1="429.9" y1="162.82" x2="438.9" y2="162.82" stroke="#111" stroke-opacity="0.75" stroke-width="0.7"/>
<rect x="429.9" y="176.04" width="9" height="13.22" fill="#1632ee"/>
<line x1="429.9" y1="176.04" x2="438.9" y2="176.04" stroke="#111" stroke-opacity="0.75" stroke-width="0.7"/>
<rect x="429.9" y="189.26" width="9" height="13.22" fill="#0c0cb0"/>
<line x1="429.9" y1="189.26" x2="438.9" y2="189.26" stroke="#111" stroke-opacity="0.75" stroke-width="0.7"/>
<rect x="429.9" y="83.5" width="9" height="118.98" fill="url(#cbshade)"/>
<text x="47.3" y="72.2" textLength="64.4" lengthAdjust="spacingAndGlyphs">Strongly Extravert</text>
<text x="81.0" y="102.0" textLength="31.8" lengthAdjust="spacingAndGlyphs">Extravert</text>
<text x="4.6" y="134.2" textLength="109.8" lengthAdjust="spacingAndGlyphs">Neither Extravert Nor Introvert</text>
<text x="84.2" y="164.1" textLength="30.7" lengthAdjust="spacingAndGlyphs">Introvert</text>
<text x="55.7" y="195.0" textLength="62.3" lengthAdjust="spacingAndGlyphs">Strongly Introvert</text>
<text x="54.0" y="248.6" textLength="94" lengthAdjust="spacingAndGlyphs">Strongly Unconscientious</text>
<text x="109.0" y="262.6" textLength="62" lengthAdjust="spacingAndGlyphs">Unconscientious</text>
<text x="36.0" y="278.0" textLength="161" lengthAdjust="spacingAndGlyphs">Neither Conscientious Nor Unconscientious</text>
<text x="167.0" y="293.0" textLength="52" lengthAdjust="spacingAndGlyphs">Conscientious</text>
<text x="160.0" y="306.0" textLength="85" lengthAdjust="spacingAndGlyphs">Strongly Conscientious</text>
<text x="401.0" y="222.8" textLength="72.5" lengthAdjust="spacingAndGlyphs">Strongly Agreeable</text>
<text x="371.0" y="239.3" textLength="40" lengthAdjust="spacingAndGlyphs">Agreeable</text>
<text x="342.5" y="256.0" textLength="137.5" lengthAdjust="spacingAndGlyphs">Neither Agreeable Nor Disagreeable</text>
<text x="314.0" y="273.3" textLength="49.5" lengthAdjust="spacingAndGlyphs">Disagreeable</text>
<text x="280.7" y="289.9" textLength="82.8" lengthAdjust="spacingAndGlyphs">Strongly Disagreeable</text>
<text x="442.8" y="87.9" textLength="64" lengthAdjust="spacingAndGlyphs">Strongly Neurotic</text>
<text x="443.6" y="109.9" textLength="31.2" lengthAdjust="spacingAndGlyphs">Neurotic</text>
<text x="443.6" y="135.0" textLength="101.2" lengthAdjust="spacingAndGlyphs">Neither Neurotic Nor Stable</text>
<text x="443.8" y="158.1" textLength="22.9" lengthAdjust="spacingAndGlyphs">Stable</text>
<text x="443.8" y="185.8" textLength="54.6" lengthAdjust="spacingAndGlyphs">Strongly Stable</text>
<text x="198.9" y="46.3" textLength="64.1" lengthAdjust="spacingAndGlyphs">New Observation</text>
<text x="127.7" y="137.3" textLength="49.7" lengthAdjust="spacingAndGlyphs">Data Points in</text>
<text x="127.7" y="145.6" textLength="55.9" lengthAdjust="spacingAndGlyphs">the Training Set</text>
<text x="180.9" y="90.4" text-anchor="middle">A</text>
<text x="187.6" y="113.0" text-anchor="middle">B</text>
<text x="202.9" y="97.2" text-anchor="middle">C</text>
<text x="214.0" y="99.0" text-anchor="middle">D</text>
</svg>
</body></html>
